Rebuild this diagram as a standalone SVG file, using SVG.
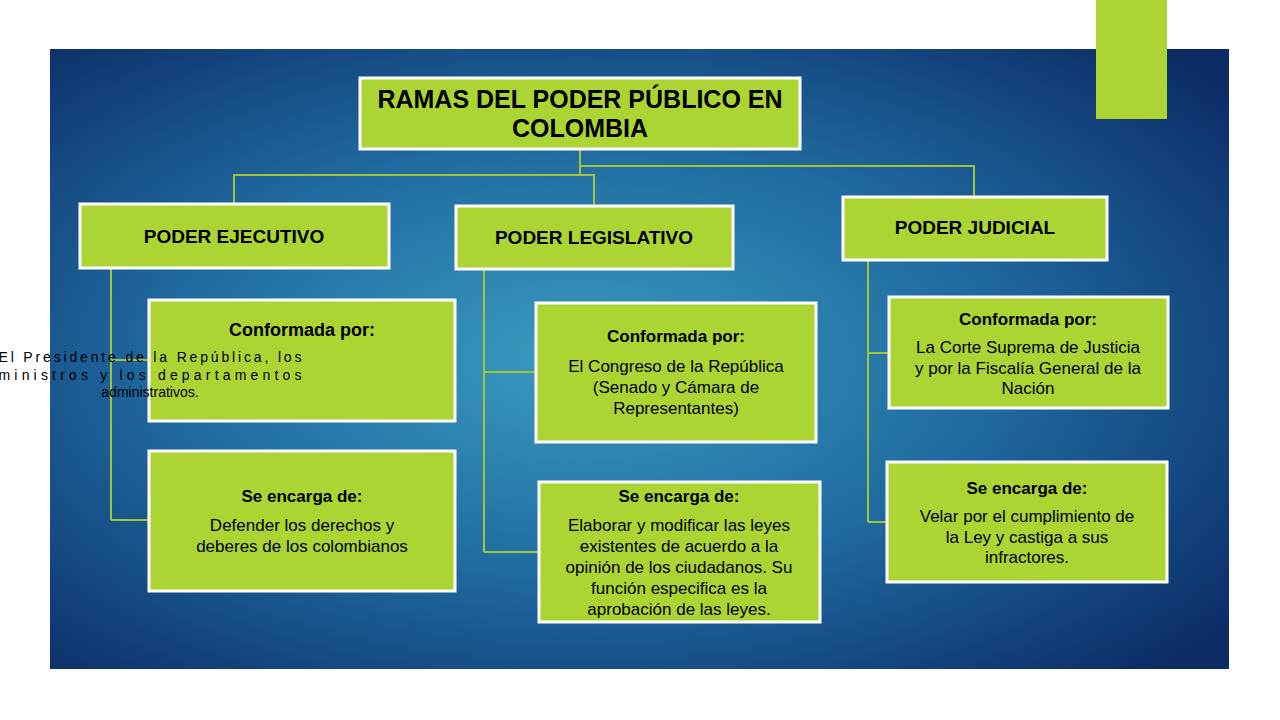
<svg xmlns="http://www.w3.org/2000/svg" width="1280" height="720" viewBox="0 0 1280 720">
<defs>
<radialGradient id="bg" cx="0.45" cy="0.5" r="0.7">
<stop offset="0" stop-color="#3a9cc0"/>
<stop offset="0.5" stop-color="#1f6aa0"/>
<stop offset="1" stop-color="#0c2c66"/>
</radialGradient>
<style>
.box{fill:#acd432;stroke:#fff;stroke-width:3}
.t{font-family:"Liberation Sans",Arial,sans-serif;fill:#000;text-anchor:middle}
.b{font-weight:bold}
.c{stroke:#a3c33a;stroke-width:2;fill:none}
</style>
</defs>
<rect width="1280" height="720" fill="#fff"/>
<rect x="50" y="49" width="1179" height="620" fill="url(#bg)"/>
<rect x="1096" y="0" width="71" height="119" fill="#acd432"/>
<g id="connectors">
<path class="c" d="M580 150V175M234 203V175H594V205M580 166H974V196"/>
<path class="c" d="M111 268V520M111 360H150M111 520H150"/>
<path class="c" d="M484 270V552M484 372H537M484 552H540"/>
<path class="c" d="M868 260V522M868 353H890M868 522H888"/>
</g>
<g id="root"><rect class="box" x="360" y="78" width="440" height="71"/>
<text class="t b" x="580" y="108" font-size="25">RAMAS DEL PODER PÚBLICO EN</text>
<text class="t b" x="580" y="137" font-size="25">COLOMBIA</text></g>
<g id="ejecutivo"><rect class="box" x="80" y="204" width="309" height="64"/>
<text class="t b" x="234" y="243" font-size="19">PODER EJECUTIVO</text></g>
<g id="legislativo"><rect class="box" x="456" y="206" width="277" height="63"/>
<text class="t b" x="594" y="244" font-size="19">PODER LEGISLATIVO</text></g>
<g id="judicial"><rect class="box" x="843" y="197" width="264" height="63"/>
<text class="t b" x="975" y="234" font-size="19">PODER JUDICIAL</text></g>
<g id="ej1"><rect class="box" x="149" y="300" width="306" height="121"/>
<text class="t b" x="302" y="336" font-size="18">Conformada por:</text>
<text class="t" font-size="14" text-anchor="start"><tspan x="150" y="362" textLength="303" lengthAdjust="spacing">El Presidente de la República, los</tspan><tspan x="150" y="380" textLength="303" lengthAdjust="spacing">ministros y los departamentos</tspan><tspan x="150" y="397">administrativos.</tspan></text></g>
<g id="ej2"><rect class="box" x="149" y="451" width="306" height="140"/>
<text class="t b" x="302" y="502" font-size="17">Se encarga de:</text>
<text class="t" font-size="17"><tspan x="302" y="531">Defender  los derechos y</tspan><tspan x="302" y="552">deberes de los colombianos</tspan></text></g>
<g id="le1"><rect class="box" x="536" y="303" width="280" height="139"/>
<text class="t b" x="676" y="342" font-size="17">Conformada por:</text>
<text class="t" font-size="17"><tspan x="676" y="372">El Congreso de la República</tspan><tspan x="676" y="393">(Senado y Cámara de</tspan><tspan x="676" y="414">Representantes)</tspan></text></g>
<g id="le2"><rect class="box" x="539" y="482" width="281" height="140"/>
<text class="t b" x="679" y="502" font-size="17">Se encarga de:</text>
<text class="t" font-size="17"><tspan x="679" y="531">Elaborar y modificar las leyes</tspan><tspan x="679" y="552">existentes de acuerdo a la</tspan><tspan x="679" y="573">opinión de los ciudadanos.  Su</tspan><tspan x="679" y="594">función especifica  es la</tspan><tspan x="679" y="615">aprobación de las leyes.</tspan></text></g>
<g id="ju1"><rect class="box" x="889" y="297" width="279" height="111"/>
<text class="t b" x="1028" y="325" font-size="17">Conformada por:</text>
<text class="t" font-size="17"><tspan x="1028" y="353">La Corte Suprema de Justicia</tspan><tspan x="1028" y="374">y por la Fiscalía General de la</tspan><tspan x="1028" y="394">Nación</tspan></text></g>
<g id="ju2"><rect class="box" x="887" y="462" width="280" height="120"/>
<text class="t b" x="1027" y="494" font-size="17">Se encarga de:</text>
<text class="t" font-size="17"><tspan x="1027" y="522">Velar por el cumplimiento de</tspan><tspan x="1027" y="543">la Ley y castiga a sus</tspan><tspan x="1027" y="563">infractores.</tspan></text></g>
</svg>
